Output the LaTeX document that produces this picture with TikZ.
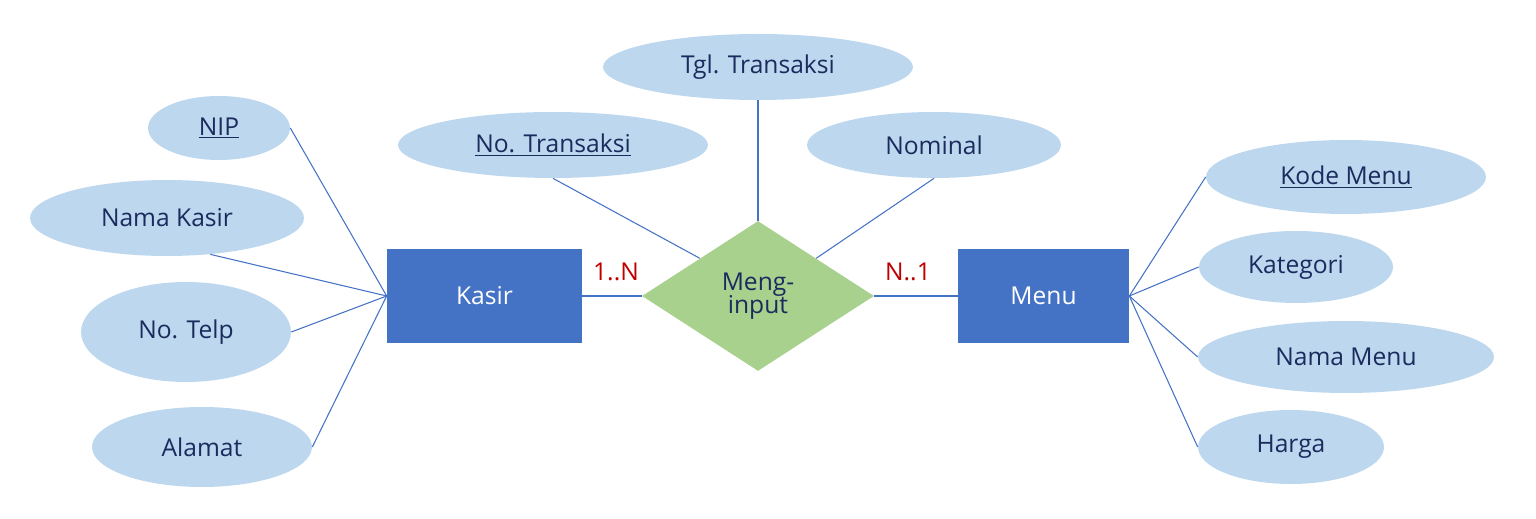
\documentclass[tikz,border=0pt]{standalone}
\usepackage{fontspec}
\setmainfont{Open Sans}
\usetikzlibrary{shapes.geometric}
\definecolor{attrfill}{HTML}{BDD7EE}
\definecolor{entfill}{HTML}{4472C4}
\definecolor{relfill}{HTML}{A9D18E}
\definecolor{ink}{HTML}{1B2B5E}
\definecolor{cardred}{HTML}{C00000}
\begin{document}
\begin{tikzpicture}[x=0.02cm,y=-0.02cm,font=\fontsize{14}{16}\selectfont,
  attr/.style={ellipse,fill=attrfill,text=ink,inner sep=0pt},
  ent/.style={rectangle,fill=entfill,text=white,minimum width=#1,minimum height=1.88cm,inner sep=0pt},
  rel/.style={diamond,fill=relfill,text=ink,minimum width=4.64cm,minimum height=3cm,aspect=1.55,inner sep=0pt,align=center},
  link/.style={draw=entfill,line width=0.6pt},
  card/.style={text=cardred}]
\useasboundingbox (0,0) rectangle (1536,519);

\node[ent=3.9cm] (kasir) at (484.5,296) {Kasir};
\node[ent=3.42cm] (menu) at (1043.5,296) {Menu};
\node[rel] (input) at (758,296) {Meng-\\[-3pt]input};

\node[attr,minimum width=2.84cm,minimum height=1.28cm] (nip) at (219,128) {\underline{NIP}};
\node[attr,minimum width=5.48cm,minimum height=1.52cm] (nkasir) at (167,218) {Nama Kasir};
\node[attr,minimum width=4.2cm,minimum height=2cm] (telp) at (186,332) {No. Telp};
\node[attr,minimum width=4.4cm,minimum height=1.6cm] (alamat) at (202,447) {Alamat};

\node[attr,minimum width=6.2cm,minimum height=1.32cm] (notr) at (553,145) {\underline{No. Transaksi}};
\node[attr,minimum width=6.2cm,minimum height=1.32cm] (tgl) at (758,67) {Tgl. Transaksi};
\node[attr,minimum width=5.08cm,minimum height=1.32cm] (nominal) at (934,145) {Nominal};

\node[attr,minimum width=5.6cm,minimum height=1.48cm] (kode) at (1346,177) {\underline{Kode Menu}};
\node[attr,minimum width=3.88cm,minimum height=1.44cm] (kategori) at (1296,267) {Kategori};
\node[attr,minimum width=5.92cm,minimum height=1.44cm] (nmenu) at (1346,357) {Nama Menu};
\node[attr,minimum width=3.72cm,minimum height=1.48cm] (harga) at (1291,447) {Harga};

\foreach \a/\b in {nip.east/kasir.west, nkasir.-40/kasir.west, telp.east/kasir.west,
  alamat.east/kasir.west, notr.south/input.north west, tgl.south/input.north,
  nominal.south/input.north east, kasir.east/input.west, input.east/menu.west,
  menu.east/kode.west, menu.east/kategori.west, menu.east/nmenu.west, menu.east/harga.west}
  \draw[link] (\a) -- (\b);

\node[card] (c1) at (616,272) {1..N};
\node[card] (c2) at (908,272) {N..1};
\end{tikzpicture}
\end{document}
